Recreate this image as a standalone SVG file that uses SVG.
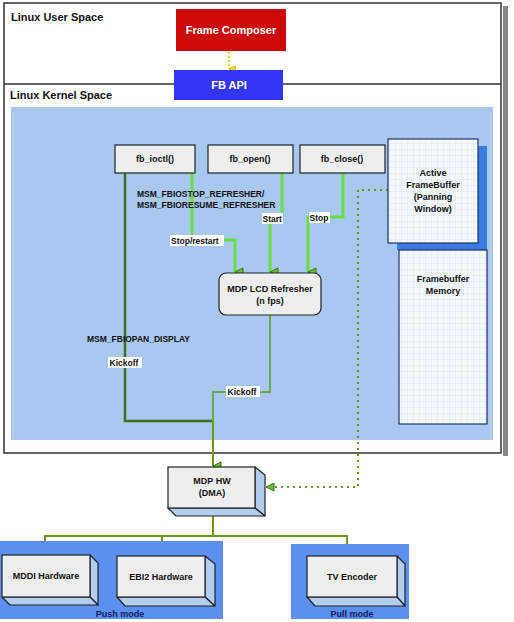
<svg xmlns="http://www.w3.org/2000/svg" width="514" height="622" viewBox="0 0 514 622">
<defs>
<style>
text{font-family:"Liberation Sans",Arial,sans-serif;font-weight:bold;}
.t{font-size:9px;fill:#111;text-anchor:middle;}
.h{font-size:11px;fill:#111;}
.lbl{font-size:8.5px;fill:#111;}
.box{fill:#eeeeee;stroke:#222;stroke-width:1.2;}
.side{fill:#b3cdef;stroke:#222;stroke-width:1.2;stroke-linejoin:round;}
.bright{fill:none;stroke:#66e040;stroke-width:3;}
.dark{fill:none;stroke:#3c6e1c;stroke-width:2.5;}
.med{fill:none;stroke:#6aa84f;stroke-width:2;}
.olive{fill:none;stroke:#6b9a10;stroke-width:2;}
.dots{fill:none;stroke:#6b8e23;stroke-width:2;stroke-dasharray:2 4;}
.bg{fill:#fff;}
</style>
<pattern id="grid" width="6" height="6" patternUnits="userSpaceOnUse">
<rect width="6" height="6" fill="#f4f8fd"/>
<path d="M6 0V6M0 6H6" stroke="#c9dbf0" stroke-width="0.6" fill="none"/>
</pattern>
<marker id="arr" viewBox="0 0 10 10" refX="5" refY="9" markerWidth="10" markerHeight="10" markerUnits="userSpaceOnUse" orient="auto-start-reverse">
<path d="M1 1L9 1L5 9Z" fill="#66c030" stroke="#3c6e1c" stroke-width="1"/>
</marker>
<marker id="arrd" viewBox="0 0 10 10" refX="9" refY="5" markerWidth="10" markerHeight="10" markerUnits="userSpaceOnUse" orient="auto">
<path d="M1 1L9 5L1 9Z" fill="#66c030" stroke="#3c6e1c" stroke-width="1"/>
</marker>
<marker id="arry" viewBox="0 0 10 10" refX="5" refY="9" markerWidth="8" markerHeight="8" markerUnits="userSpaceOnUse" orient="auto">
<path d="M1 1L9 1L5 9Z" fill="#f0e020" stroke="#c8b000" stroke-width="1"/>
</marker>
</defs>
<rect width="514" height="622" fill="#fff"/>
<rect x="503" y="6" width="5" height="450" fill="#888"/>
<rect x="4" y="3" width="497" height="450" fill="#fff" stroke="#333" stroke-width="1.5"/>
<line x1="4" y1="84" x2="501" y2="84" stroke="#333" stroke-width="1.5"/>
<rect x="11" y="107" width="482" height="333" fill="#a8c8f0"/>
<text class="h" x="11" y="21">Linux User Space</text>
<text class="h" x="10" y="99">Linux Kernel Space</text>

<g id="connectors">
<path class="dots" d="M388 190H358V487H266" marker-end="url(#arrd)"/>
<path d="M229 52V69" stroke="#e8d800" stroke-width="2" stroke-dasharray="2 2" fill="none" marker-end="url(#arry)"/>
<path class="dark" d="M125 173V421H213"/>
<path class="med" d="M270 315V392H213V421"/>
<path class="olive" d="M213 421V466" marker-end="url(#arr)"/>
<path class="bright" d="M192 173V240H235V272" marker-end="url(#arr)"/>
<path class="bright" d="M282 173V219H270V272" marker-end="url(#arr)"/>
<path class="bright" d="M343 173V217H308V272" marker-end="url(#arr)"/>
<path class="olive" d="M213 516V536H45V554" marker-end="url(#arr)"/>
<path class="olive" d="M162 536V554" marker-end="url(#arr)"/>
<path class="olive" d="M213 536H347V555" marker-end="url(#arr)"/>
<text class="lbl" x="137" y="197">MSM_FBIOSTOP_REFRESHER/</text>
<text class="lbl" x="137" y="208">MSM_FBIORESUME_REFRESHER</text>
<text class="lbl" x="87" y="342">MSM_FBIOPAN_DISPLAY</text>
<rect class="bg" x="170" y="235" width="54" height="11"/>
<text class="lbl" x="171" y="243.5">Stop/restart</text>
<rect class="bg" x="262" y="213" width="21" height="11"/>
<text class="lbl" x="262.5" y="221.5">Start</text>
<rect class="bg" x="309" y="212" width="21" height="11"/>
<text class="lbl" x="309.5" y="220.5">Stop</text>
<rect class="bg" x="108" y="357" width="34" height="11"/>
<text class="lbl" x="109.5" y="366">Kickoff</text>
<rect class="bg" x="226" y="386" width="34" height="11"/>
<text class="lbl" x="227.5" y="395">Kickoff</text>
</g>

<g id="frame-composer">
<rect x="176" y="9" width="110" height="42" fill="#cc0a0a"/>
<text class="t" x="231" y="34" style="font-size:11px;fill:#fff">Frame Composer</text>
</g>
<g id="fb-api">
<rect x="174" y="70" width="109" height="30" fill="#3535f5"/>
<text class="t" x="229" y="89" style="font-size:11px;fill:#fff">FB API</text>
</g>

<g id="fb-ioctl">
<rect class="box" x="115" y="145" width="80" height="28"/>
<text class="t" x="155" y="162">fb_ioctl()</text>
</g>
<g id="fb-open">
<rect class="box" x="208" y="145" width="85" height="28"/>
<text class="t" x="250" y="162">fb_open()</text>
</g>
<g id="fb-close">
<rect class="box" x="300" y="145" width="85" height="28"/>
<text class="t" x="342" y="162">fb_close()</text>
</g>

<g id="framebuffer-memory">
<rect x="397" y="146" width="90" height="104" fill="#3a7be0"/>
<rect x="399" y="250" width="88" height="174" fill="url(#grid)" stroke="#223366" stroke-width="1.2"/>
<text class="t" x="443" y="282">Framebuffer</text>
<text class="t" x="443" y="294">Memory</text>
</g>
<g id="active-framebuffer">
<rect x="388" y="139" width="90" height="104" fill="url(#grid)" stroke="#223366" stroke-width="1.2"/>
<text class="t" x="433" y="176">Active</text>
<text class="t" x="433" y="188">FrameBuffer</text>
<text class="t" x="433" y="200">(Panning</text>
<text class="t" x="433" y="212">Window)</text>
</g>

<g id="mdp-lcd-refresher">
<rect class="box" x="219" y="273" width="102" height="42" rx="7"/>
<text class="t" x="270" y="292">MDP LCD Refresher</text>
<text class="t" x="270" y="304">(n fps)</text>
</g>

<g id="mdp-hw">
<path class="side" d="M255 467L265 475V516L255 508Z"/>
<path class="side" d="M168 508H255L265 516H176Z"/>
<rect class="box" x="168" y="467" width="87" height="41"/>
<text class="t" x="212" y="484">MDP HW</text>
<text class="t" x="212" y="496">(DMA)</text>
</g>

<g id="push-mode">
<rect x="0" y="541" width="223" height="78" fill="#5b8ff0"/>
<text class="t" x="120" y="617" style="fill:#10205a">Push mode</text>
</g>
<g id="mddi-hardware">
<path class="side" d="M90 555L98 563V605L90 597Z"/>
<path class="side" d="M2 597H90L98 605H10Z"/>
<rect class="box" x="2" y="555" width="88" height="42"/>
<text class="t" x="46" y="579">MDDI Hardware</text>
</g>
<g id="ebi2-hardware">
<path class="side" d="M205 556L215 564V606L205 597Z"/>
<path class="side" d="M117 597H205L215 606H125Z"/>
<rect class="box" x="117" y="556" width="88" height="41"/>
<text class="t" x="161" y="580">EBI2 Hardware</text>
</g>
<g id="pull-mode">
<rect x="291" y="544" width="118" height="75" fill="#5b8ff0"/>
<text class="t" x="352" y="617" style="fill:#10205a">Pull mode</text>
</g>
<g id="tv-encoder">
<path class="side" d="M397 556L405 564V606L397 597Z"/>
<path class="side" d="M307 597H397L405 606H315Z"/>
<rect class="box" x="307" y="556" width="90" height="41"/>
<text class="t" x="352" y="580">TV Encoder</text>
</g>
</svg>
